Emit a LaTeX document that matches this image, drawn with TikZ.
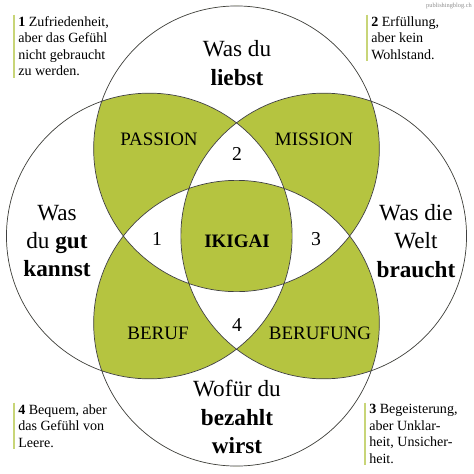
\documentclass[tikz,border=0pt]{standalone}
\usepackage{fontspec}
\setmainfont{Liberation Serif}
\usepackage{xcolor}
\usetikzlibrary{positioning}

\definecolor{ikigreen}{RGB}{181,196,64}
\definecolor{barcolor}{RGB}{200,213,120}

\begin{document}
\begin{tikzpicture}[x=0.025cm, y=-0.025cm, align=center,
  circ/.style={draw=black!75, line width=0.5pt},
  big/.style={font=\fontsize{16.5}{20.2}\selectfont},
  region/.style={font=\fontsize{13.5}{16}\selectfont},
  num/.style={font=\fontsize{14}{16}\selectfont},
  note/.style={font=\fontsize{10}{11.8}\selectfont, align=left, inner sep=0pt, anchor=north west},
  notebar/.style={draw=barcolor, line width=1.2pt}]

  \useasboundingbox (0,0) rectangle (474,474);

  \coordinate (ctop) at (236.5,148.8);
  \coordinate (cleft) at (149.3,236);
  \coordinate (cright) at (323.7,236);
  \coordinate (cbot) at (236.5,323.2);

  % green where two or four circles meet
  \fill [ikigreen] (ctop) circle [radius=3.57cm] (cleft) circle [radius=3.57cm]
    (cright) circle [radius=3.57cm] (cbot) circle [radius=3.57cm];
  \fill [white, even odd rule] (ctop) circle [radius=3.57cm] (cleft) circle [radius=3.57cm]
    (cright) circle [radius=3.57cm] (cbot) circle [radius=3.57cm];
  \draw [circ] (ctop) circle [radius=3.57cm] (cleft) circle [radius=3.57cm]
    (cright) circle [radius=3.57cm] (cbot) circle [radius=3.57cm];

  % outer labels
  \node (love) [big] at (237,63) {Was du\\\textbf{liebst}};
  \node (good) [big] at (57,241) {Was\\du \textbf{gut}\\\textbf{kannst}};
  \node (need) [big] at (416,241) {Was die\\Welt\\\textbf{braucht}};
  \node (paid) [big] at (237,417) {Wofür du\\\textbf{bezahlt}\\\textbf{wirst}};

  % overlaps
  \node (passion) [region] at (159,139) {PASSION};
  \node (mission) [region] at (314,139) {MISSION};
  \node (beruf) [region] at (158,333) {BERUF};
  \node (berufung) [region] at (320,333) {BERUFUNG};
  \node (ikigai) [region] at (237,241) {\textbf{IKIGAI}};

  \node (n1) [num] at (157,239) {1};
  \node (n2) [num] at (237,154) {2};
  \node (n3) [num] at (316,239) {3};
  \node (n4) [num] at (237,325) {4};

  % corner notes
  \node (note1) [note] at (18,16) {\textbf{1} Zufriedenheit,\\aber das Gefühl\\nicht gebraucht\\zu werden.};
  \node (note2) [note] at (371,16) {\textbf{2} Erfüllung,\\aber kein\\Wohlstand.};
  \node (note4) [note] at (18,404) {\textbf{4} Bequem, aber\\das Gefühl von\\Leere.};
  \node (note3) [note] at (369,404) {\textbf{3} Begeisterung,\\aber Unklar-\\heit, Unsicher-\\heit.};
  \foreach \n in {note1,note2,note3,note4}
    \draw [notebar] ([xshift=-3pt, yshift=1pt]\n.north west) -- ([xshift=-3pt, yshift=-1pt]\n.south west);

  \node (credit) [font=\fontsize{4.5}{5}\selectfont, text=black!45, inner sep=0pt] at (449,6) {publishingblog.ch};
\end{tikzpicture}
\end{document}
